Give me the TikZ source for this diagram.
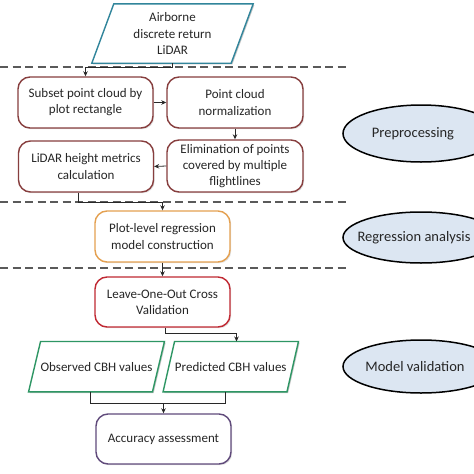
\documentclass[tikz,border=0pt]{standalone}
\usepackage{fontspec}
\setmainfont{Carlito}
\usetikzlibrary{shapes.geometric,shadows,calc,arrows.meta}
\definecolor{boxred}{RGB}{135,62,62}
\definecolor{boxorange}{RGB}{228,160,80}
\definecolor{boxcrimson}{RGB}{192,40,50}
\definecolor{boxpurple}{RGB}{96,74,123}
\definecolor{paraTeal}{RGB}{49,133,155}
\definecolor{paraGreen}{RGB}{46,150,100}
\definecolor{ellfill}{RGB}{220,230,242}
\definecolor{dashgray}{RGB}{90,90,90}
\definecolor{linegray}{RGB}{40,40,40}
\tikzset{
  every node/.style={font=\fontsize{13}{16.2}\selectfont, text=black!85},
  procbox/.style={draw=#1, line width=1.4pt, rounded corners=12pt, fill=white,
    minimum width=135pt, minimum height=51pt, align=center, inner sep=1pt,
    drop shadow={shadow xshift=1.2pt, shadow yshift=-1.2pt, opacity=0.25}},
  iotext/.style={align=center, inner sep=0pt},
  ioshape/.style={draw=#1, line width=1.4pt, fill=white},
  ioshadow/.style={fill=black, opacity=0.22},
  phase/.style={draw=black, line width=1.5pt, ellipse, fill=ellfill,
    minimum width=156pt, inner sep=0pt},
  phasetext/.style={inner sep=0pt, font=\fontsize{14.5}{17}\selectfont},
  sep/.style={draw=dashgray, line width=1.1pt, dash pattern=on 8pt off 4.5pt},
  conn/.style={draw=linegray, line width=0.8pt},
  arr/.style={conn, -{Stealth[length=5pt,width=4.5pt]}},
}
% parallelogram outline around a text node: name, half slant, colour
\newcommand\paragram[3]{%
  \fill[ioshadow] ($(#1.north west)+(#2+1.2,1.2)$) -- ($(#1.north east)+(#2+1.2,1.2)$)
    -- ($(#1.south east)+(-#2+1.2,1.2)$) -- ($(#1.south west)+(-#2+1.2,1.2)$) -- cycle;
  \filldraw[ioshape=#3] ($(#1.north west)+(#2,0)$) -- ($(#1.north east)+(#2,0)$)
    -- ($(#1.south east)+(-#2,0)$) -- ($(#1.south west)+(-#2,0)$) -- cycle;
}
\begin{document}
\begin{tikzpicture}[x=1pt,y=-1pt]
\useasboundingbox (0,0) rectangle (474,474);
\clip (0,0) rectangle (474,474);
\fill[white] (0,0) rectangle (474,474);
% separators
\coordinate (s1a) at (0,67);  \coordinate (s1b) at (347,67);
\coordinate (s2a) at (0,202); \coordinate (s2b) at (347,202);
\coordinate (s3a) at (0,268); \coordinate (s3b) at (347,268);
\draw[sep] (s1a) -- (s1b);
\draw[sep] (s2a) -- (s2b);
\draw[sep] (s3a) -- (s3b);
% input / output shapes (outline first, text on top)
\path node[iotext, minimum width=139pt, minimum height=59pt] (air) at (172.5,33.5) {};
\path node[iotext, minimum width=123.5pt, minimum height=50pt] (obs) at (96.5,366.7) {};
\path node[iotext, minimum width=123.5pt, minimum height=50pt] (pred) at (230.75,366.7) {};
\paragram{air}{11}{paraTeal}
\paragram{obs}{6}{paraGreen}
\paragram{pred}{5.75}{paraGreen}
\node[iotext] (airt) at (air.center) {Airborne\\discrete return\\LiDAR};
\node[iotext] (obst) at (obs.center) {Observed CBH values};
\node[iotext] (predt) at (pred.center) {Predicted CBH values};
% process boxes
\node[procbox=boxred] (b1) at (85.5,102.5) {Subset point cloud by\\plot rectangle};
\node[procbox=boxred, minimum width=136pt] (b2) at (235,102.5) {Point cloud\\normalization};
\node[procbox=boxred, minimum width=136pt, minimum height=52pt] (b3) at (235,166)
  {Elimination of points\\covered by multiple\\flightlines};
\node[procbox=boxred] (b4) at (86,166.5) {LiDAR height metrics\\calculation};
\node[procbox=boxorange] (b5) at (162.5,236.5) {Plot-level regression\\model construction};
\node[procbox=boxcrimson, minimum height=50pt] (b6) at (162.5,302) {Leave-One-Out Cross\\Validation};
\node[procbox=boxpurple, minimum height=50pt] (b7) at (163.5,439) {Accuracy assessment};
% phases
\node[phase, minimum height=57pt] (e1) at (421,133.5) {};
\node[phase, minimum height=51pt] (e2) at (421,237.5) {};
\node[phase, minimum height=53pt] (e3) at (421,366.5) {};
\node[phasetext] (e1t) at ($(e1.center)+(-8,0)$) {Preprocessing};
\node[phasetext] (e2t) at ($(e2.center)+(-7,0)$) {Regression analysis};
\node[phasetext] (e3t) at ($(e3.center)+(-6,0)$) {Model validation};
% connectors
\draw[arr] (air.south) -- ++(0,4) -| (b1.north);
\draw[arr] (b1.east) -- (b2.west);
\draw[arr] (b2.south) -- (b3.north);
\draw[arr] (b3.west) -- (b4.east);
\coordinate (b4out) at ($(b4.south)+(-8,0)$);
\draw[arr] (b4out) -- ++(0,10) -| (b5.north);
\draw[arr] (b5.south) -- (b6.north);
\coordinate (b6out) at ($(b6.south)+(2.5,0)$);
\coordinate (predin) at ($(pred.north)+(5.75,0)$);
\draw[arr] (b6out) -- ++(0,6) -| (predin);
\coordinate (obsout) at ($(obs.south)+(-6,0)$);
\coordinate (predout) at ($(pred.south)+(-5.75,0)$);
\coordinate (jn) at ($(b7.north)+(0,-10)$);
\draw[conn] (obsout) |- (jn) -| (predout);
\draw[arr] (jn) -- (b7.north);
\end{tikzpicture}
\end{document}
